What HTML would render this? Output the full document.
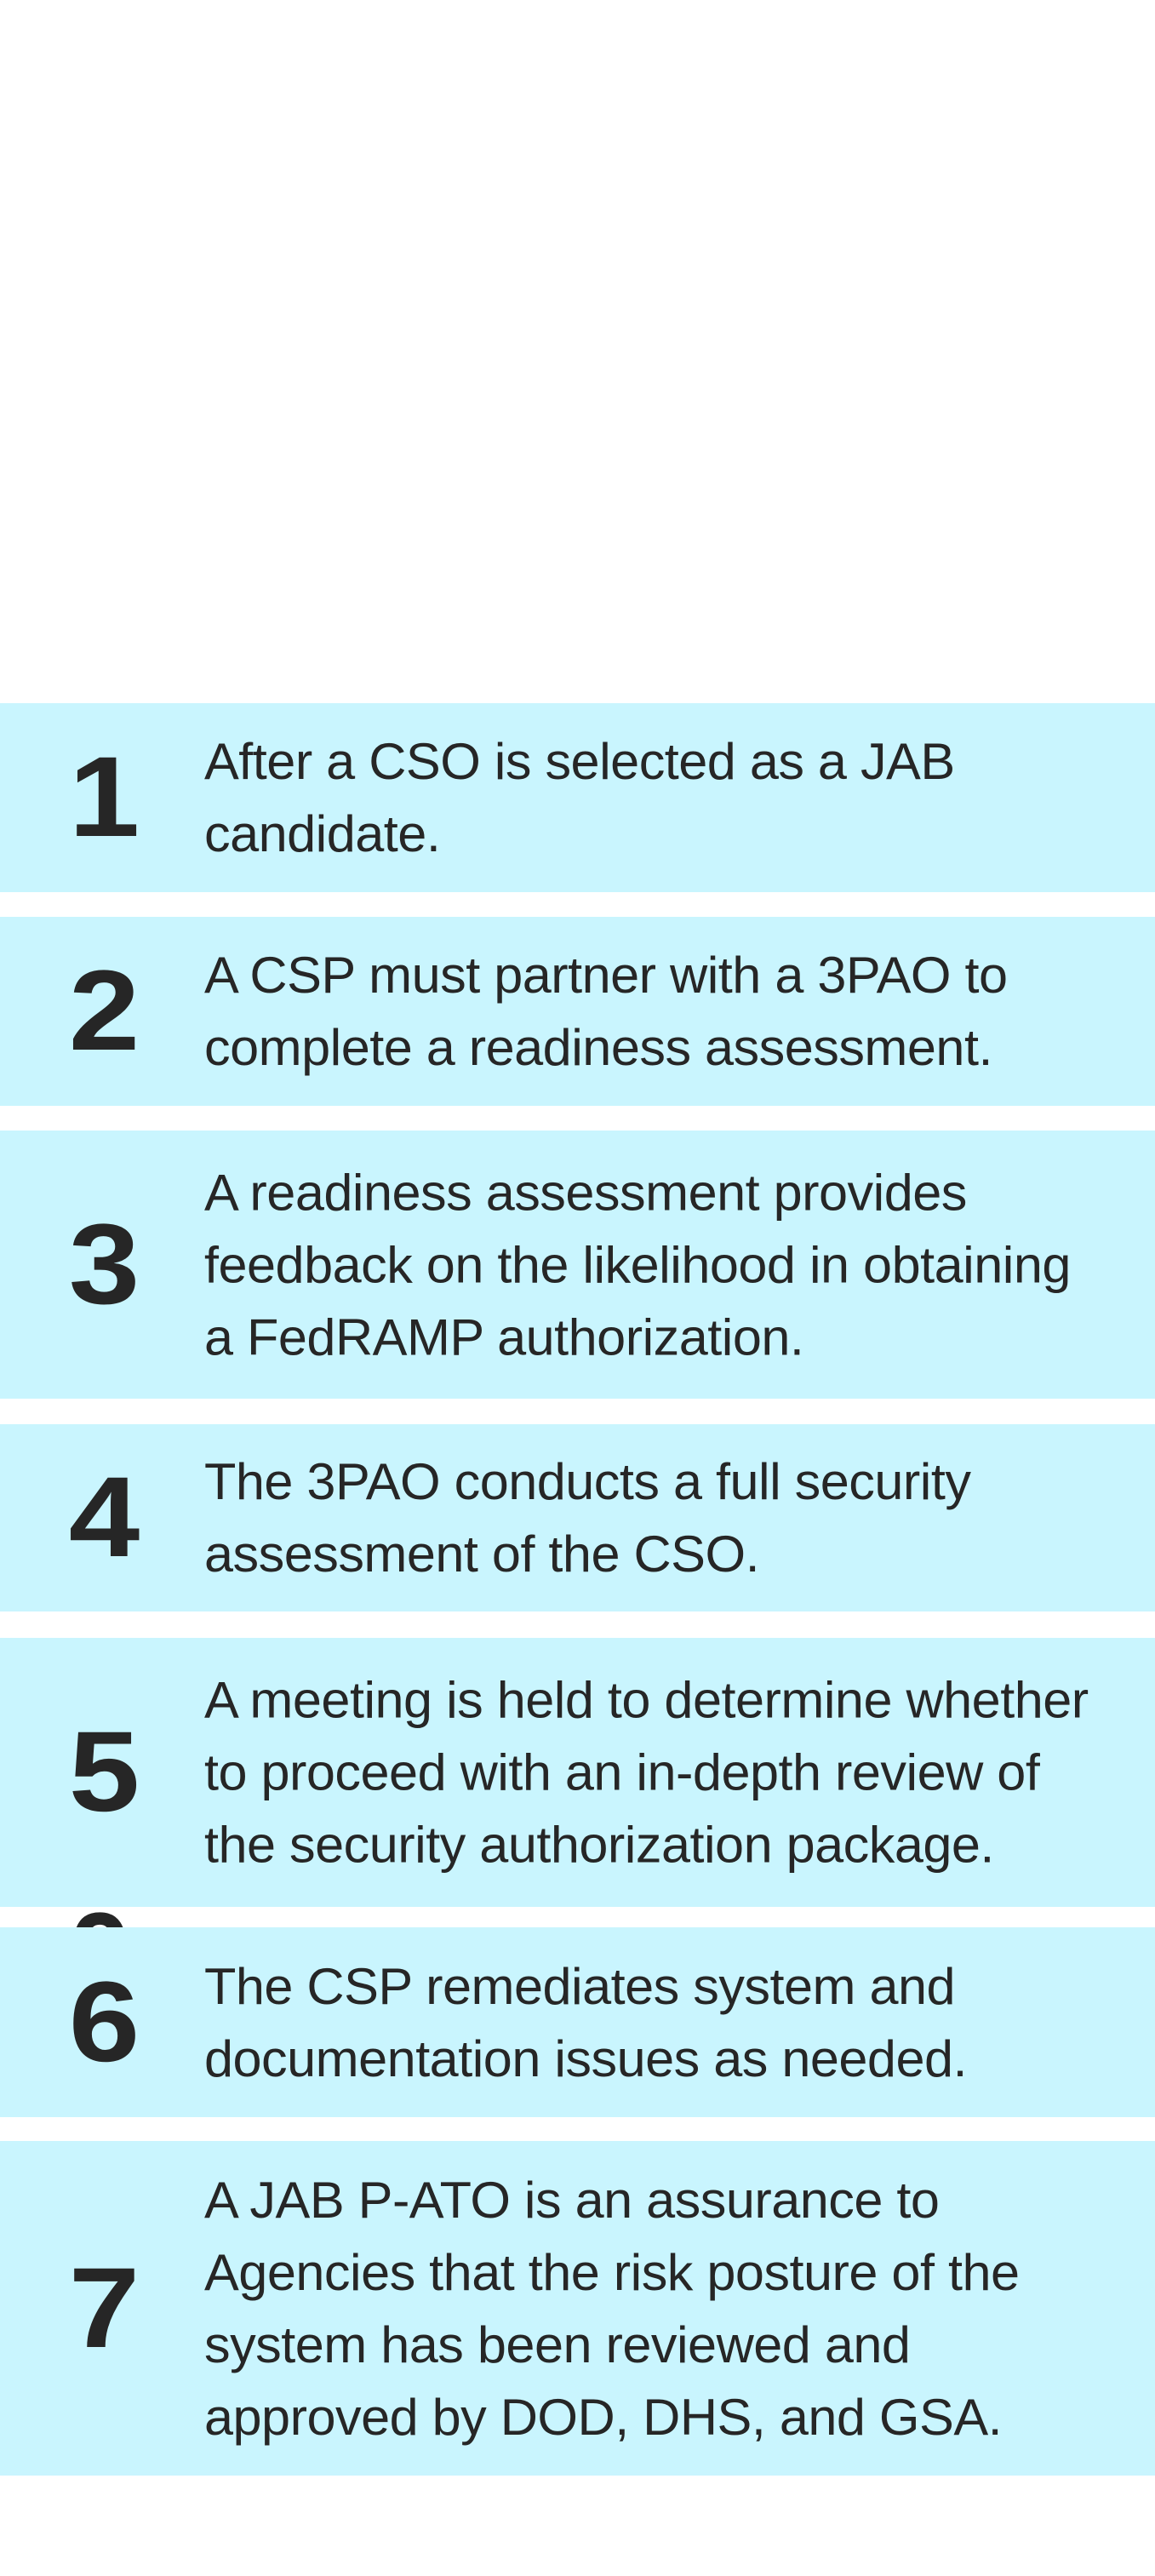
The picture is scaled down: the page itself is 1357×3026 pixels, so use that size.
<!DOCTYPE html>
<html><head><meta charset="utf-8"><style>
html,body{margin:0;padding:0;background:#fff;}
body{width:1357px;height:3026px;position:relative;overflow:hidden;font-family:"Liberation Sans",sans-serif;color:#262626;}
.b{position:absolute;left:0;width:1357px;background:#c9f5fe;}
.n{position:absolute;left:60px;width:125px;text-align:center;font-weight:bold;font-size:134px;line-height:134px;top:50%;transform:translateY(-50%) scaleX(1.12);}
.t{position:absolute;left:240px;top:50%;transform:translateY(-50%) scaleX(1.02);transform-origin:left center;font-size:60px;line-height:85px;white-space:nowrap;letter-spacing:-0.5px;}
.frag{position:absolute;left:70px;top:2240px;width:100px;height:24px;overflow:hidden;}
.frag span{position:absolute;left:10px;top:-12px;font-weight:bold;font-size:134px;line-height:134px;}
</style></head><body>
<div class="b" style="top:826px;height:222px"><div class="n">1</div><div class="t">After a CSO is selected as a JAB<br>candidate.</div></div>
<div class="b" style="top:1077px;height:222px"><div class="n">2</div><div class="t">A CSP must partner with a 3PAO to<br>complete a readiness assessment.</div></div>
<div class="b" style="top:1328px;height:315px"><div class="n">3</div><div class="t">A readiness assessment provides<br>feedback on the likelihood in obtaining<br>a FedRAMP authorization.</div></div>
<div class="b" style="top:1673px;height:220px"><div class="n">4</div><div class="t">The 3PAO conducts a full security<br>assessment of the CSO.</div></div>
<div class="b" style="top:1924px;height:316px"><div class="n">5</div><div class="t">A meeting is held to determine whether<br>to proceed with an in-depth review of<br>the security authorization package.</div></div>
<div class="frag"><span>0</span></div>
<div class="b" style="top:2264px;height:223px"><div class="n">6</div><div class="t">The CSP remediates system and<br>documentation issues as needed.</div></div>
<div class="b" style="top:2515px;height:393px"><div class="n">7</div><div class="t">A JAB P-ATO is an assurance to<br>Agencies that the risk posture of the<br>system has been reviewed and<br>approved by DOD, DHS, and GSA.</div></div>
</body></html>
